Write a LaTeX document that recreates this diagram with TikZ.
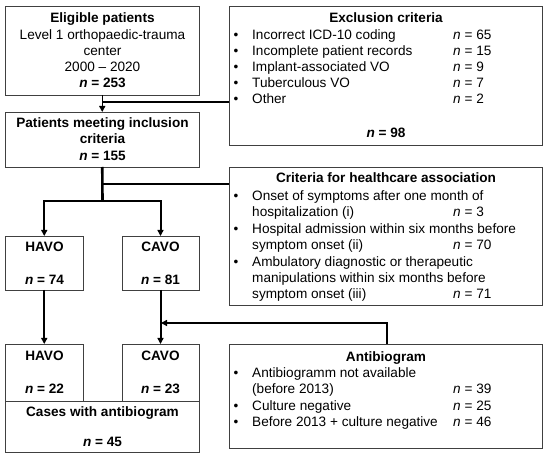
\documentclass[tikz,border=0pt]{standalone}
\usepackage{fontspec}
\setmainfont{Liberation Sans}
\usetikzlibrary{arrows.meta}
\begin{document}
\begin{tikzpicture}[x=1pt,y=-1pt,
  box/.style={draw=black!75,line width=0.9pt,anchor=north west,inner sep=0pt,outer sep=0pt},
  txt/.style={anchor=base,inner sep=0pt,font=\fontsize{13.6}{16.3}\selectfont},
  ltxt/.style={txt,anchor=base west},
  conn/.style={line width=2pt},
  arr/.style={line width=2pt,-{Triangle[length=6pt,width=6pt]}}]
\useasboundingbox (0,0) rectangle (550,457);
% boxes
\node[box,minimum width=193.5pt,minimum height=89pt] (b1) at (5.5,6.5) {};
\node[box,minimum width=193.5pt,minimum height=55pt] (b2) at (5.5,112) {};
\node[box,minimum width=313.5pt,minimum height=138.5pt] (excl) at (229,6.5) {};
\node[box,minimum width=313.5pt,minimum height=138pt] (crit) at (229,167) {};
\node[box,minimum width=77.5pt,minimum height=54pt] (havo1) at (5.5,236) {};
\node[box,minimum width=77pt,minimum height=54pt] (cavo1) at (122,236) {};
\node[box,minimum width=77.5pt,minimum height=57pt] (havo2) at (5.5,344) {};
\node[box,minimum width=77pt,minimum height=57pt] (cavo2) at (122,344) {};
\node[box,minimum width=193.5pt,minimum height=51.5pt] (cases) at (5.5,401) {};
\node[box,minimum width=313.5pt,minimum height=104pt] (anti) at (229,344) {};
% box 1
\node[txt] (b1t1) at (102.5,23) {\textbf{Eligible patients}};
\node[txt] (b1t2) at (102.5,40) {Level 1 orthopaedic-trauma};
\node[txt] (b1t3) at (102.5,56) {center};
\node[txt] (b1t4) at (102.5,72) {2000 – 2020};
\node[txt] (b1t5) at (102.5,88) {\textbf{\textit{n} = 253}};
% box 2
\node[txt] (b2t1) at (102.5,128) {\textbf{Patients meeting inclusion}};
\node[txt] (b2t2) at (102.5,144) {\textbf{criteria}};
\node[txt] (b2t3) at (102.5,161) {\textbf{\textit{n} = 155}};
% exclusion
\node[txt] (et0) at (386,23) {\textbf{Exclusion criteria}};
\node[txt] (eb1) at (236,40) {•};
\node[ltxt] (et1) at (252,40) {Incorrect ICD-10 coding};
\node[ltxt] (en1) at (453,40) {\textit{n} = 65};
\node[txt] (eb2) at (236,56) {•};
\node[ltxt] (et2) at (252,56) {Incomplete patient records};
\node[ltxt] (en2) at (453,56) {\textit{n} = 15};
\node[txt] (eb3) at (236,72) {•};
\node[ltxt] (et3) at (252,72) {Implant-associated VO};
\node[ltxt] (en3) at (453,72) {\textit{n} = 9};
\node[txt] (eb4) at (236,88) {•};
\node[ltxt] (et4) at (252,88) {Tuberculous VO};
\node[ltxt] (en4) at (453,88) {\textit{n} = 7};
\node[txt] (eb5) at (236,104) {•};
\node[ltxt] (et5) at (252,104) {Other};
\node[ltxt] (en5) at (453,104) {\textit{n} = 2};
\node[txt] (etn) at (386,138) {\textbf{\textit{n} = 98}};
% criteria
\node[txt] (ct0) at (386,183) {\textbf{Criteria for healthcare association}};
\node[txt] (cb1) at (236,200.5) {•};
\node[ltxt] (ct1) at (252,200.5) {Onset of symptoms after one month of};
\node[ltxt] (ct1b) at (252,217) {hospitalization (i)};
\node[ltxt] (cn1) at (453,217) {\textit{n} = 3};
\node[txt] (cb2) at (236,233.5) {•};
\node[ltxt] (ct2) at (252,233.5) {Hospital admission within six months before};
\node[ltxt] (ct2b) at (252,250) {symptom onset (ii)};
\node[ltxt] (cn2) at (453,250) {\textit{n} = 70};
\node[txt] (cb3) at (236,266.5) {•};
\node[ltxt] (ct3) at (252,266.5) {Ambulatory diagnostic or therapeutic};
\node[ltxt] (ct3b) at (252,283) {manipulations within six months before};
\node[ltxt] (ct3c) at (252,299) {symptom onset (iii)};
\node[ltxt] (cn3) at (453,299) {\textit{n} = 71};
% HAVO / CAVO
\node[txt] (h1t) at (44.5,252) {\textbf{HAVO}};
\node[txt] (h1n) at (44.5,285) {\textbf{\textit{n} = 74}};
\node[txt] (c1t) at (160.5,252) {\textbf{CAVO}};
\node[txt] (c1n) at (160.5,285) {\textbf{\textit{n} = 81}};
\node[txt] (h2t) at (44.5,361) {\textbf{HAVO}};
\node[txt] (h2n) at (44.5,394) {\textbf{\textit{n} = 22}};
\node[txt] (c2t) at (160.5,361) {\textbf{CAVO}};
\node[txt] (c2n) at (160.5,394) {\textbf{\textit{n} = 23}};
\node[txt] (cst) at (102.5,417) {\textbf{Cases with antibiogram}};
\node[txt] (csn) at (102.5,447) {\textbf{\textit{n} = 45}};
% antibiogram
\node[txt] (at0) at (386,362) {\textbf{Antibiogram}};
\node[txt] (ab1) at (236,378) {•};
\node[ltxt] (at1) at (252,378) {Antibiogramm not available};
\node[ltxt] (at1b) at (252,394) {(before 2013)};
\node[ltxt] (an1) at (453,394) {\textit{n} = 39};
\node[txt] (ab2) at (236,411) {•};
\node[ltxt] (at2) at (252,411) {Culture negative};
\node[ltxt] (an2) at (453,411) {\textit{n} = 25};
\node[txt] (ab3) at (236,427) {•};
\node[ltxt] (at3) at (252,427) {Before 2013 + culture negative};
\node[ltxt] (an3) at (453,427) {\textit{n} = 46};
% connectors
\coordinate (j1) at (102.5,102);
\coordinate (j2) at (102.5,184);
\coordinate (split) at (102.5,201);
\coordinate (k) at (161,323);
\draw[arr,line width=1.5pt] (b1.south) -- (b2.north);
\draw[conn] (excl.west |- j1) -- (j1);
\draw[conn] (crit.west |- j2) -- (j2);
\draw[conn,line width=2.6pt] (b2.south) -- ([yshift=1pt]split);
\draw[arr,line join=miter] (split) -| (havo1.north);
\draw[arr,line join=miter] (split) -| (cavo1.north);
\draw[arr] (havo1.south) -- (havo2.north);
\draw[arr] (cavo1.south) -- (cavo2.north);
\draw[arr,line join=miter] ([xshift=1pt]anti.north) |- (k);
\end{tikzpicture}
\end{document}
